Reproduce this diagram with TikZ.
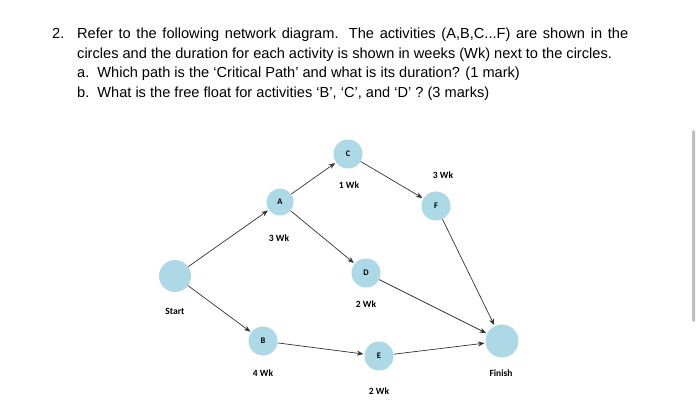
\documentclass[tikz,border=0pt]{standalone}
\usepackage{fontspec}
\setmainfont{Liberation Sans}
\newfontfamily\carfont{Carlito}
\usetikzlibrary{arrows.meta}
\begin{document}
\begin{tikzpicture}[x=1pt,y=-1pt,
  ev/.style={circle,fill={rgb,255:red,173;green,216;blue,230},minimum size=#1,inner sep=0pt,font=\carfont\bfseries\fontsize{8.5}{9}\selectfont},
  ev/.default=29pt,
  lab/.style={font=\carfont\bfseries\fontsize{9.5}{10}\selectfont},
  txt/.style={anchor=base west,inner sep=0pt,font=\fontsize{14.6}{16}\selectfont},
  arr/.style={-{Stealth[length=6.5pt,width=5pt]},draw=black!80,line width=0.7pt,shorten >=1pt}]
\useasboundingbox[fill=white] (0,0) rectangle (700,408);
\fill[black!25,rounded corners=1.5pt] (692,130) rectangle (695,322);
\node[txt] (n2) at (52,38) {2.};
\node[txt] (l1) at (77,38) {\makebox[551pt][s]{Refer to the following network diagram. The activities (A,B,C...F) are shown in the}};
\node[txt] (l2) at (77,58) {circles and the duration for each activity is shown in weeks (Wk) next to the circles.};
\node[txt] (la) at (77,77) {a.\hspace{8pt}Which path is the ‘Critical Path’ and what is its duration? (1 mark)};
\node[txt] (lb) at (77,97) {b.\hspace{8pt}What is the free float for activities ‘B’, ‘C’, and ‘D’ ? (3 marks)};
\node[ev=32pt] (S) at (175,276) {};
\node[ev=27pt] (A) at (280,202) {A};
\node[ev] (C) at (348,154) {C};
\node[ev] (F) at (436,206) {F};
\node[ev] (D) at (366,273) {D};
\node[ev] (B) at (263,341) {B};
\node[ev] (E) at (379,356) {E};
\node[ev=33pt] (Fi) at (502,341) {};
\node[lab] (tS) at (175,311) {Start};
\node[lab] (tA) at (279,238) {3 Wk};
\node[lab] (tC) at (349,185) {1 Wk};
\node[lab] (tF) at (443,175) {3 Wk};
\node[lab] (tD) at (366,304) {2 Wk};
\node[lab] (tB) at (263,373) {4 Wk};
\node[lab] (tE) at (379,391) {2 Wk};
\node[lab] (tFi) at (501,373) {Finish};
\draw[arr] (S) -- (A);
\draw[arr] (S) -- (B);
\draw[arr] (A) -- (C);
\draw[arr] (A) -- (D);
\draw[arr] (C) -- (F);
\draw[arr] (F) -- (Fi);
\draw[arr] (D) -- (Fi);
\draw[arr] (B) -- (E);
\draw[arr] (E) -- (Fi);
\end{tikzpicture}
\end{document}
